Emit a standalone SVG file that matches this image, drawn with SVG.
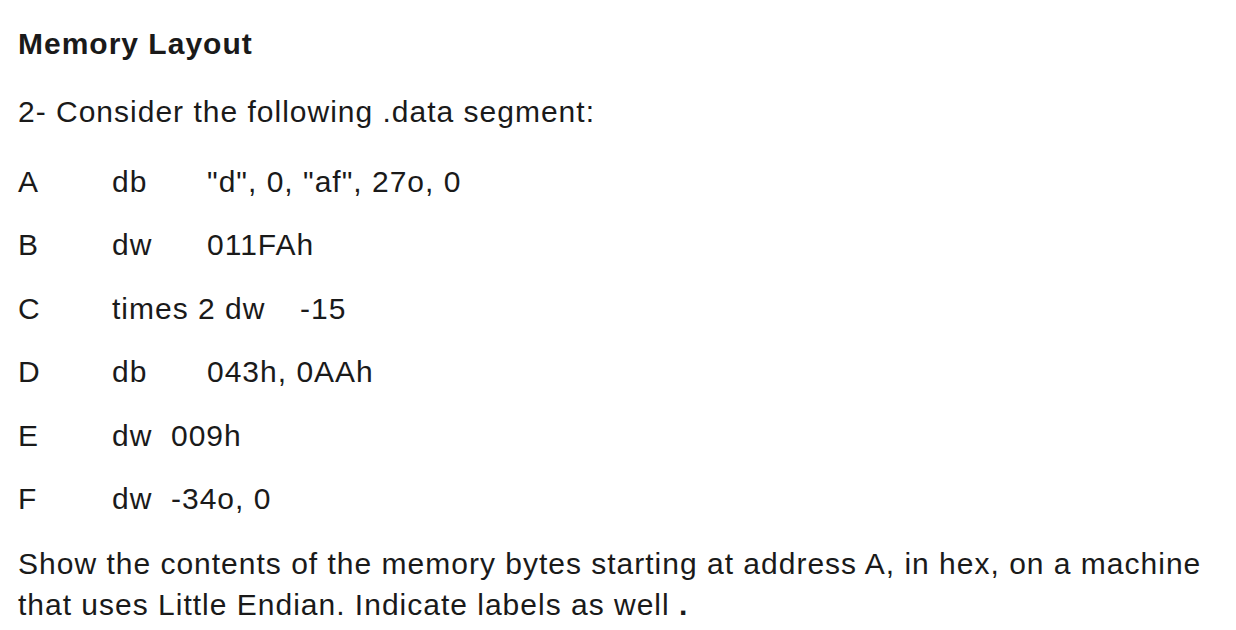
<svg xmlns="http://www.w3.org/2000/svg" width="1236" height="630" viewBox="0 0 1236 630">
<style>
text{font-family:"Liberation Sans",Arial,sans-serif;font-size:30px;letter-spacing:1px;fill:#1a1a1a}
.b{font-weight:bold}
</style>
<rect width="1236" height="630" fill="#fff"/>
<text class="b" x="18" y="54">Memory Layout</text>
<text x="18" y="122">2- Consider the following .data segment:</text>
<g id="A"><text x="18" y="192">A</text><text x="112" y="192">db</text><text x="207" y="192">"d", 0, "af", 27o, 0</text></g>
<g id="B"><text x="18" y="255">B</text><text x="112" y="255">dw</text><text x="207" y="255">011FAh</text></g>
<g id="C"><text x="18" y="319">C</text><text x="112" y="319">times 2 dw</text><text x="300" y="319">-15</text></g>
<g id="D"><text x="18" y="382">D</text><text x="112" y="382">db</text><text x="207" y="382">043h, 0AAh</text></g>
<g id="E"><text x="18" y="446">E</text><text x="112" y="446">dw</text><text x="171" y="446">009h</text></g>
<g id="F"><text x="18" y="509">F</text><text x="112" y="509">dw</text><text x="171" y="509">-34o, 0</text></g>
<text x="18" y="574">Show the contents of the memory bytes starting at address A, in hex, on a machine</text>
<text x="18" y="615">that uses Little Endian. Indicate labels as well <tspan class="b">.</tspan></text>
<g id="connectors"/>
</svg>
